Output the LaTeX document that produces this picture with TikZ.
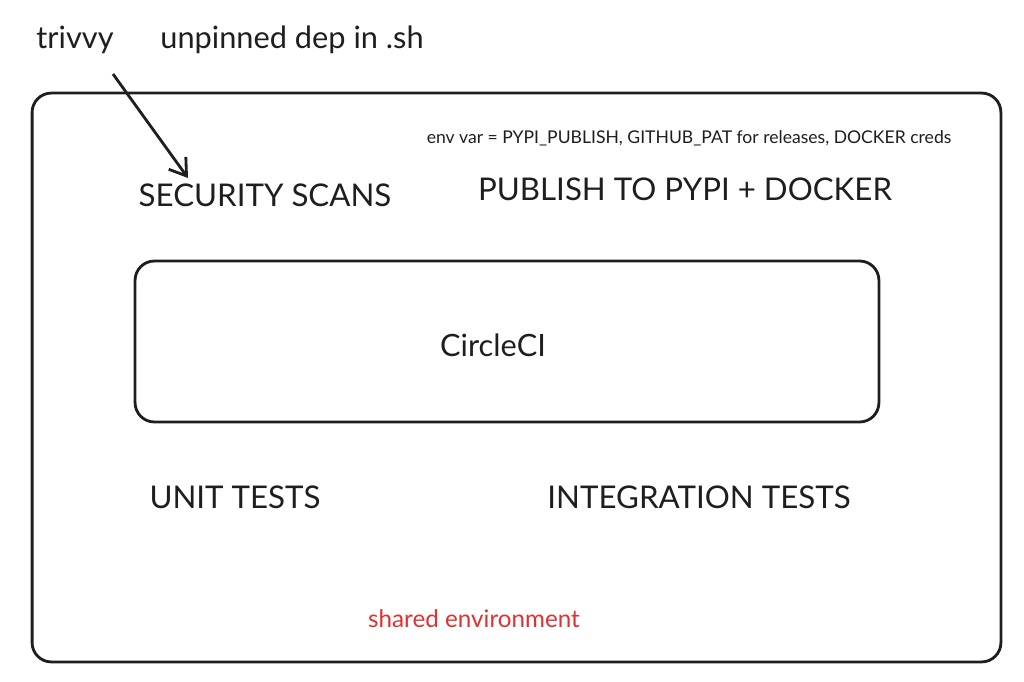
\documentclass[tikz,border=0pt]{standalone}
\usepackage{fontspec}
\setmainfont{Lato}
\usepackage{tikz}
\usetikzlibrary{arrows.meta,positioning,calc}
\definecolor{InkBlack}{HTML}{1E1E1E}
\definecolor{NoteRed}{HTML}{E03131}

\begin{document}
\begin{tikzpicture}[x=0.02cm,y=-0.02cm,>={Straight Barb[length=9pt,width=12pt,line width=1.6pt]},
 frame/.style={draw=InkBlack,line width=1.6pt,rounded corners=11pt,inner sep=0pt},
 big/.style={font=\fontsize{17.8}{21}\selectfont,text=InkBlack},
 hand/.style={font=\fontsize{17.5}{21}\selectfont,text=InkBlack},
 note/.style={font=\fontsize{10}{12}\selectfont,text=InkBlack}]
\useasboundingbox (0,0) rectangle (1024,682);
\node[frame,minimum width=19.38cm,minimum height=11.38cm] (env) at (516.5,377.5) {};
\node[frame,minimum width=14.88cm,minimum height=3.22cm] (ci) at (507,341.5) {};
\node[hand] (label) at (493,345) {CircleCI};
\node[hand] (trivvy) at (75,40) {trivvy};
\node[hand] (dep) at (292,40) {unpinned dep in .sh};
\node[note] (creds) at (689,138) {env var = PYPI\_PUBLISH, GITHUB\_PAT for releases, DOCKER creds};
\node[big] (scans) at (265,195) {SECURITY SCANS};
\node[big] (publish) at (685,189) {PUBLISH TO PYPI + DOCKER};
\node[big] (unit) at (235,497) {UNIT TESTS};
\node[big] (integ) at (699,497) {INTEGRATION TESTS};
\node[font=\fontsize{13.8}{16}\selectfont,text=NoteRed] (shared) at (474,619) {shared environment};
\coordinate (from) at (113,74);
\coordinate (to) at (188,178);
\draw[->,draw=InkBlack,line width=1.6pt] (from)--(to);
\end{tikzpicture}
\end{document}
